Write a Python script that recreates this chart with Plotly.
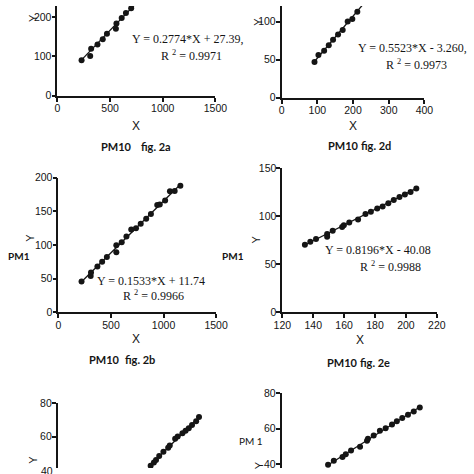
import plotly.graph_objects as go
import numpy as np

W = H = 474

# ---------------- data ----------------
a_x = [229, 311, 320, 380, 430, 470, 555, 560, 610, 650, 700]
a_y = [90, 101, 119, 130, 143, 157, 170, 183, 197, 210, 222]

d_x = [92, 103, 119, 132, 144, 158, 171, 185, 198, 212]
d_y = [47, 56, 61.5, 69, 76, 83, 89, 100, 103.5, 113]

b_x = [220, 307, 310, 371, 416, 461, 551, 551, 602, 647, 693, 738, 783, 835, 880, 940, 964, 1015, 1061, 1106, 1160]
b_y = [45.7, 54, 59, 68, 75, 82, 89, 99.7, 104, 112.7, 123, 124.7, 131.5, 138.7, 146, 159.4, 160, 166, 179.6, 180, 188]

e_x = [134.6, 138.1, 141.8, 149, 149, 152.6, 158.7, 159.8, 163.3, 169, 173.8, 177.3, 181.4, 184.9, 188.6, 192.1, 195.8, 199.3, 203, 206.7]
e_y = [70.4, 73.5, 76.5, 81.6, 78.9, 85, 89, 90.8, 93.8, 96.9, 102.6, 105, 108.4, 110.4, 113.8, 117.2, 120.2, 123, 125.6, 129]

c_x = [880, 911, 931, 961, 1001, 1046, 1061, 1112, 1136, 1181, 1211, 1241, 1272, 1311, 1338]
c_y = [42.6, 44.5, 46, 48.4, 50.9, 53.3, 54.6, 58.7, 60, 62, 63.5, 64.9, 66.8, 69.1, 71.6]

f_x = [149.9, 153.6, 159.2, 161.3, 164.7, 170.5, 175, 175.6, 179.3, 183.3, 187, 191.1, 194.2, 197.7, 201.4, 205.1, 209]
f_y = [39.6, 41.8, 44, 45.5, 47.7, 49.7, 53.2, 54.3, 56.1, 58.8, 60.2, 62.4, 64.2, 66, 67.9, 69.7, 71.9]

fits = {"a": (0.2774, 27.39), "d": (0.5523, -3.260), "b": (0.1533, 11.74), "e": (0.8196, -40.08)}

eq_a = ["Y = 0.2774*X + 27.39,", "R <sup>2</sup> = 0.9971"]
eq_d = ["Y = 0.5523*X - 3.260,", "R <sup>2</sup> = 0.9973"]
eq_b = ["Y = 0.1533*X + 11.74", "R <sup>2</sup> = 0.9966"]
eq_e = ["Y = 0.8196*X - 40.08", "R <sup>2</sup> = 0.9988"]

# ---------------- layout helpers ----------------
def fx(px):
    return px / W

def fy(py):
    return 1 - py / H

INK = "#151515"
TICKF = "Liberation Sans, Arial, sans-serif"
SERIF = "Liberation Serif, Times New Roman, serif"
BOLD = "Lato, Liberation Sans, sans-serif"

fig = go.Figure()

panels = [
    ("a", "", a_x, a_y, (50.7, 216), (0, 92), [0, 1500], [0, 92 / 40 * 100 * 0.99], [0, 500, 1000, 1500], [0, 100, 200], True),
    ("d", "2", d_x, d_y, (285.3, 434.7), (0, 94), [0, 400], [0, 94 / 39 * 50], [0, 100, 200, 300, 400], [0, 50, 100], True),
    ("b", "3", b_x, b_y, (51.7, 216.7), (176, 314.3), [0, 1500], [0, 200], [0, 500, 1000, 1500], [0, 50, 100, 150, 200], True),
    ("e", "4", e_x, e_y, (286, 447.7), (166.7, 314.3), [120, 220], [0, 150], [120, 140, 160, 180, 200, 220], [0, 50, 100, 150], True),
    ("c", "5", c_x, c_y, (51, 216.7), (407.3, 474), [0, 1500], [80 - (474 - 407.3) / 1.72, 80], [0, 500, 1000, 1500], [40, 60, 80], False),
    ("f", "6", f_x, f_y, (285.3, 447.7), (397.3, 474), [120, 220], [80 - (474 - 397.3) / 1.815, 80], [120, 140, 160, 180, 200, 220], [40, 60, 80], False),
]

for name, k, xs, ys, xd, yd, xr, yr, xt, yt, showx in panels:
    xa = "x" + k
    ya = "y" + k
    if name in fits:
        m, b0 = fits[name]
        x0 = min(xs)
        x1 = max(xs)
        if name in ("a", "d"):
            x1 = (yr[1] + 5 - b0) / m
        lx = [x0, x1]
        ly = [m * v + b0 for v in lx]
    else:
        m, b0 = np.polyfit(xs, ys, 1)
        lx = [min(xs), max(xs)]
        ly = [m * v + b0 for v in lx]
    fig.add_trace(go.Scatter(x=lx, y=ly, mode="lines", line=dict(color=INK, width=1.3),
                             xaxis=xa, yaxis=ya, showlegend=False, hoverinfo="skip"))
    fig.add_trace(go.Scatter(x=xs, y=ys, mode="markers", marker=dict(color=INK, size=6),
                             xaxis=xa, yaxis=ya, showlegend=False))
    common = dict(showgrid=False, zeroline=False, showline=True, linecolor=INK, linewidth=1.8,
                  ticks="outside", ticklen=4, tickwidth=1.6, tickcolor=INK,
                  ticklabelstandoff=-2,
                  tickfont=dict(family=TICKF, size=10.5, color=INK))
    fig.layout["xaxis" + k] = dict(domain=[fx(xd[0]), fx(xd[1])], range=xr, tickvals=xt,
                                   anchor=ya, visible=showx, **common)
    fig.layout["yaxis" + k] = dict(domain=[fy(yd[1]), fy(yd[0])], range=yr, tickvals=yt,
                                   anchor=xa, **common)

ann = []

def text(t, x, y, font, size, bold=False, angle=0, color=INK):
    ann.append(dict(text=("<b>%s</b>" % t) if bold else t, x=fx(x), y=fy(y), xref="paper", yref="paper",
                    showarrow=False, xanchor="center", yanchor="middle", textangle=angle,
                    font=dict(family=font, size=size, color=color)))

for eq, c1, c2 in [(eq_a, (187, 34), (190.5, 51)), (eq_d, (421.8, 43), (426, 60)),
                   (eq_b, (148.3, 281.7), (150.8, 296.7)), (eq_e, (385.7, 250), (399.5, 267.3))]:
    text(eq[0], c1[0], c1[1], SERIF, 12)
    text(eq[1], c2[0], c2[1], SERIF, 12)

for (x, y) in [(24.5, 12), (259.7, 16), (22, 237.7), (258, 240), (25, 465.7), (261, 470.7)]:
    text("Y", x, y, TICKF, 11, angle=-90)

for (x, y) in [(133, 123), (360.3, 123), (133.3, 341.7), (367, 342.7)]:
    text("X", x, y, TICKF, 12)

for (x1, x2, y, lab) in [(113, 153.3, 144.3, "fig. 2a"), (350, 383.6, 143.3, "fig. 2d"),
                         (100.3, 136.6, 362.7, "fig. 2b"), (349, 382.8, 366, "fig. 2e")]:
    text("PM10", x1, y, BOLD, 11, bold=True)
    text(lab, x2, y, BOLD, 11, bold=True)

text("PM1", 10, 257, BOLD, 10, bold=True)
text("PM1", 234, 257, BOLD, 10, bold=True)
text("PM 1", 253.7, 446, BOLD, 10)
text("40", 40, 477, TICKF, 10.5)

fig.update_layout(width=W, height=H, margin=dict(l=0, r=0, t=0, b=0),
                  paper_bgcolor="white", plot_bgcolor="white", annotations=ann)

fig.write_html("out.html")
